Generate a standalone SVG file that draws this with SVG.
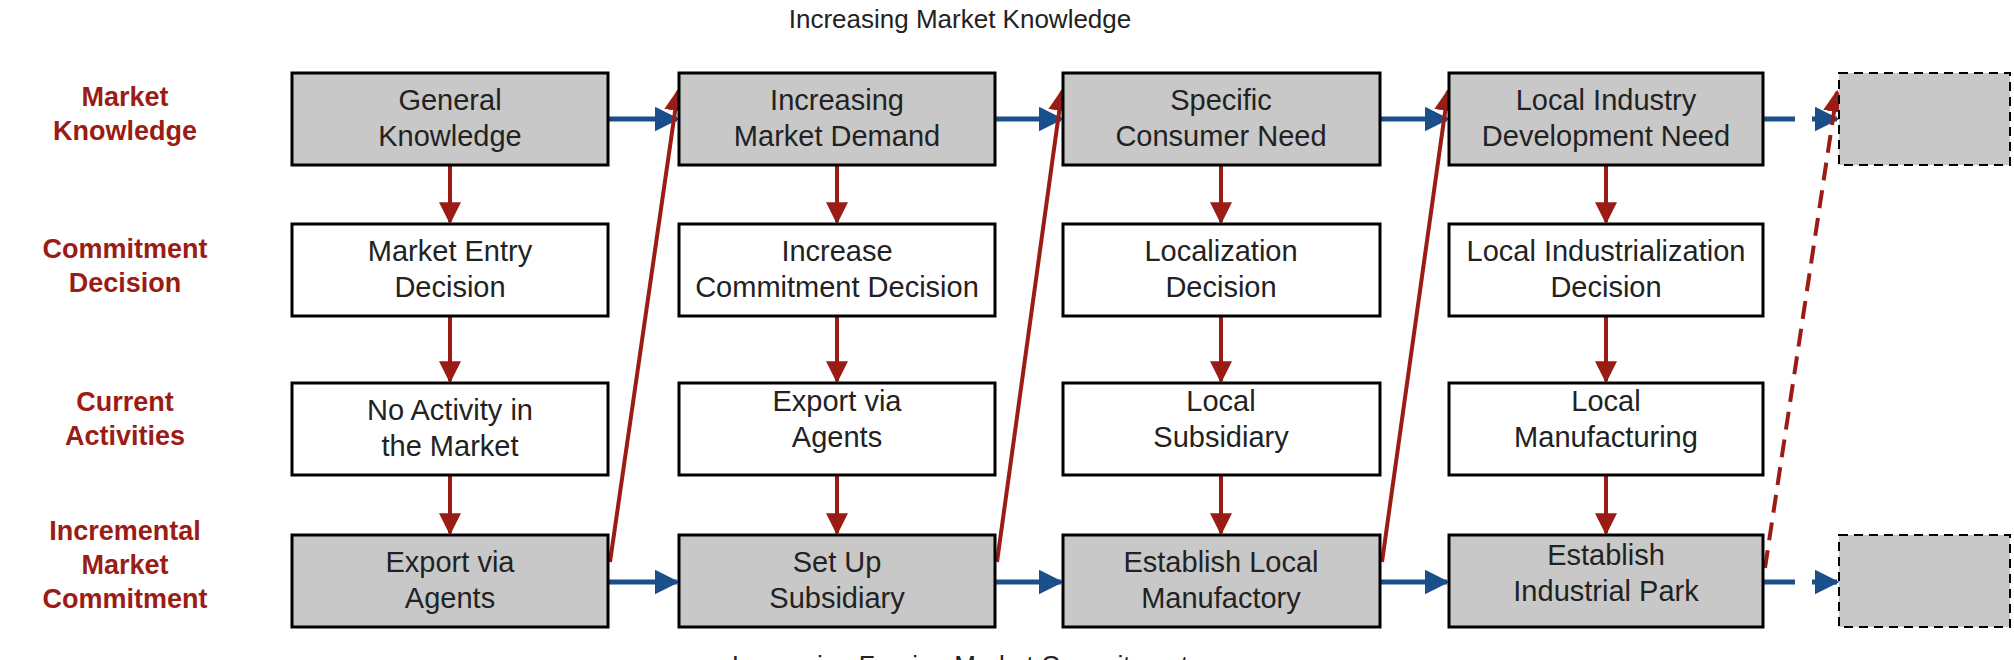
<svg xmlns="http://www.w3.org/2000/svg" width="2014" height="660" viewBox="0 0 2014 660">
<style>
text{font-family:"Liberation Sans",Arial,sans-serif;text-anchor:middle}
.t{font-size:29px;fill:#222}
.l{font-size:27px;font-weight:bold;fill:#9b1c14}
.h{font-size:26px;fill:#222}
.g{fill:#c8c8c8;stroke:#000;stroke-width:3}
.w{fill:#fff;stroke:#000;stroke-width:3}
.d{fill:#c8c8c8;stroke:#000;stroke-width:2;stroke-dasharray:9 6}
.b{stroke:#1b4f8a;stroke-width:5;fill:none}
.r{stroke:#9b1c14;stroke-width:4;fill:none}
</style>
<defs>
<marker id="mb" viewBox="0 0 10 10" refX="9" refY="5" markerWidth="5" markerHeight="5" orient="auto" markerUnits="strokeWidth"><path d="M0,0L10,5L0,10z" fill="#1b4f8a"/></marker>
<marker id="mr" viewBox="0 0 10 10" refX="9" refY="5" markerWidth="5.5" markerHeight="5.5" orient="auto" markerUnits="strokeWidth"><path d="M0,0L10,5L0,10z" fill="#9b1c14"/></marker>
</defs>
<rect width="2014" height="660" fill="#fff"/>
<text class="h" x="960" y="28">Increasing Market Knowledge</text>
<text class="h" x="960" y="674">Increasing Foreign Market Commitment</text>
<g id="labels">
<text class="l" x="125" y="106">Market</text><text class="l" x="125" y="140">Knowledge</text>
<text class="l" x="125" y="258">Commitment</text><text class="l" x="125" y="292">Decision</text>
<text class="l" x="125" y="411">Current</text><text class="l" x="125" y="445">Activities</text>
<text class="l" x="125" y="540">Incremental</text><text class="l" x="125" y="574">Market</text><text class="l" x="125" y="608">Commitment</text>
</g>
<g id="connectors">
<path class="b" d="M608 119H677" marker-end="url(#mb)"/>
<path class="b" d="M995 119H1061" marker-end="url(#mb)"/>
<path class="b" d="M1380 119H1447" marker-end="url(#mb)"/>
<path class="b" d="M1763 119H1795M1812 119H1837" marker-end="url(#mb)"/>
<path class="b" d="M608 582H677" marker-end="url(#mb)"/>
<path class="b" d="M995 582H1061" marker-end="url(#mb)"/>
<path class="b" d="M1380 582H1447" marker-end="url(#mb)"/>
<path class="b" d="M1763 582H1795M1812 582H1837" marker-end="url(#mb)"/>
<g class="r">
<path d="M450 165V222" marker-end="url(#mr)"/><path d="M450 316V381" marker-end="url(#mr)"/><path d="M450 475V533" marker-end="url(#mr)"/>
<path d="M837 165V222" marker-end="url(#mr)"/><path d="M837 316V381" marker-end="url(#mr)"/><path d="M837 475V533" marker-end="url(#mr)"/>
<path d="M1221 165V222" marker-end="url(#mr)"/><path d="M1221 316V381" marker-end="url(#mr)"/><path d="M1221 475V533" marker-end="url(#mr)"/>
<path d="M1606 165V222" marker-end="url(#mr)"/><path d="M1606 316V381" marker-end="url(#mr)"/><path d="M1606 475V533" marker-end="url(#mr)"/>
<path d="M610 562L678 91" marker-end="url(#mr)"/>
<path d="M997 562L1062 91" marker-end="url(#mr)"/>
<path d="M1382 562L1448 91" marker-end="url(#mr)"/>
<path d="M1765 568L1837 92" stroke-dasharray="18 10" marker-end="url(#mr)"/>
</g>
</g>
<g id="n1"><rect class="g" x="292" y="73" width="316" height="92"/><text class="t" x="450" y="110">General</text><text class="t" x="450" y="146">Knowledge</text></g>
<g id="n2"><rect class="g" x="679" y="73" width="316" height="92"/><text class="t" x="837" y="110">Increasing</text><text class="t" x="837" y="146">Market Demand</text></g>
<g id="n3"><rect class="g" x="1063" y="73" width="317" height="92"/><text class="t" x="1221" y="110">Specific</text><text class="t" x="1221" y="146">Consumer Need</text></g>
<g id="n4"><rect class="g" x="1449" y="73" width="314" height="92"/><text class="t" x="1606" y="110">Local Industry</text><text class="t" x="1606" y="146">Development Need</text></g>
<g id="n5"><rect class="d" x="1839" y="73" width="171" height="92"/></g>
<g id="n6"><rect class="w" x="292" y="224" width="316" height="92"/><text class="t" x="450" y="261">Market Entry</text><text class="t" x="450" y="297">Decision</text></g>
<g id="n7"><rect class="w" x="679" y="224" width="316" height="92"/><text class="t" x="837" y="261">Increase</text><text class="t" x="837" y="297">Commitment Decision</text></g>
<g id="n8"><rect class="w" x="1063" y="224" width="317" height="92"/><text class="t" x="1221" y="261">Localization</text><text class="t" x="1221" y="297">Decision</text></g>
<g id="n9"><rect class="w" x="1449" y="224" width="314" height="92"/><text class="t" x="1606" y="261">Local Industrialization</text><text class="t" x="1606" y="297">Decision</text></g>
<g id="n10"><rect class="w" x="292" y="383" width="316" height="92"/><text class="t" x="450" y="420">No Activity in</text><text class="t" x="450" y="456">the Market</text></g>
<g id="n11"><rect class="w" x="679" y="383" width="316" height="92"/><text class="t" x="837" y="411">Export via</text><text class="t" x="837" y="447">Agents</text></g>
<g id="n12"><rect class="w" x="1063" y="383" width="317" height="92"/><text class="t" x="1221" y="411">Local</text><text class="t" x="1221" y="447">Subsidiary</text></g>
<g id="n13"><rect class="w" x="1449" y="383" width="314" height="92"/><text class="t" x="1606" y="411">Local</text><text class="t" x="1606" y="447">Manufacturing</text></g>
<g id="n14"><rect class="g" x="292" y="535" width="316" height="92"/><text class="t" x="450" y="572">Export via</text><text class="t" x="450" y="608">Agents</text></g>
<g id="n15"><rect class="g" x="679" y="535" width="316" height="92"/><text class="t" x="837" y="572">Set Up</text><text class="t" x="837" y="608">Subsidiary</text></g>
<g id="n16"><rect class="g" x="1063" y="535" width="317" height="92"/><text class="t" x="1221" y="572">Establish Local</text><text class="t" x="1221" y="608">Manufactory</text></g>
<g id="n17"><rect class="g" x="1449" y="535" width="314" height="92"/><text class="t" x="1606" y="565">Establish</text><text class="t" x="1606" y="601">Industrial Park</text></g>
<g id="n18"><rect class="d" x="1839" y="535" width="171" height="92"/></g>
</svg>
